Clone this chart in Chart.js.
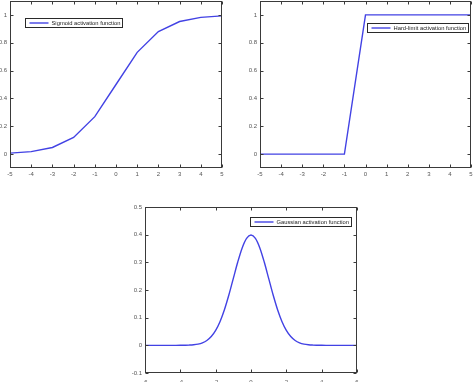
<!DOCTYPE html>
<html>
<head>
<meta charset="utf-8">
<title>Activation functions</title>
<script src="https://cdn.jsdelivr.net/npm/chart.js@4.4.1/dist/chart.umd.min.js"></script>
<style>
    html, body { margin: 0; padding: 0; background: #fff; overflow: hidden; }
    body { width: 474px; height: 382px; position: relative; }
    canvas { position: absolute; }
</style>
</head>
<body>
<canvas id="sigmoidChart" width="232" height="182" style="left:0px;top:0px"></canvas>
<canvas id="hardlimChart" width="234" height="182" style="left:240px;top:0px"></canvas>
<canvas id="gaussChart" width="250" height="187" style="left:120px;top:195px"></canvas>
<script>
// Sigmoid, sampled at integer x
const sigmoidLabel = 'Sigmoid activation function';
const sigmoidX = [-5, -4, -3, -2, -1, 0, 1, 2, 3, 4, 5];
const sigmoidY = [0.0067, 0.0180, 0.0474, 0.1192, 0.2689, 0.5, 0.7311, 0.8808, 0.9526, 0.9820, 0.9933];

// Hard-limit, same x samples
const hardlimLabel = 'Hard-limit activation function';
const hardlimX = [-5, -4, -3, -2, -1, 0, 1, 2, 3, 4, 5];
const hardlimY = [0, 0, 0, 0, 0, 1, 1, 1, 1, 1, 1];

// Gaussian, every 0.25
const gaussLabel = 'Gaussian activation function';
const gaussX = [-6, -5.75, -5.5, -5.25, -5, -4.75, -4.5, -4.25, -4, -3.75, -3.5, -3.25, -3, -2.75, -2.5, -2.25,
    -2, -1.75, -1.5, -1.25, -1, -0.75, -0.5, -0.25, 0, 0.25, 0.5, 0.75, 1, 1.25, 1.5, 1.75,
    2, 2.25, 2.5, 2.75, 3, 3.25, 3.5, 3.75, 4, 4.25, 4.5, 4.75, 5, 5.25, 5.5, 5.75, 6];
const gaussY = [0, 0, 0, 0, 0, 0, 0, 0, 0.0001, 0.0004, 0.0009, 0.0020, 0.0044, 0.0091, 0.0175, 0.0317,
    0.0540, 0.0863, 0.1295, 0.1826, 0.2420, 0.3011, 0.3521, 0.3867, 0.3989, 0.3867, 0.3521, 0.3011, 0.2420, 0.1826, 0.1295, 0.0863,
    0.0540, 0.0317, 0.0175, 0.0091, 0.0044, 0.0020, 0.0009, 0.0004, 0.0001, 0, 0, 0, 0, 0, 0, 0, 0];

// Tick values and labels
const topXTicks = [-5, -4, -3, -2, -1, 0, 1, 2, 3, 4, 5];
const topXLabels = ['-5', '-4', '-3', '-2', '-1', '0', '1', '2', '3', '4', '5'];
const topYTicks = [0, 0.2, 0.4, 0.6, 0.8, 1];
const topYLabels = ['0', '0.2', '0.4', '0.6', '0.8', '1'];
const gaussXTicks = [-6, -4, -2, 0, 2, 4, 6];
const gaussXLabels = ['-6', '-4', '-2', '0', '2', '4', '6'];
const gaussYTicks = [-0.1, 0, 0.1, 0.2, 0.3, 0.4, 0.5];
const gaussYLabels = ['-0.1', '0', '0.1', '0.2', '0.3', '0.4', '0.5'];

const LINE_COLOR = '#4242e4';
const AXIS_COLOR = '#3a3a3a';
const FONT = '"Liberation Sans", Arial, sans-serif';

// MATLAB style box with inward ticks on all four sides
const axesBox = {
    id: 'axesBox',
    afterDatasetsDraw(chart) {
        const ctx = chart.ctx;
        const a = chart.chartArea;
        const x = chart.scales.x;
        const y = chart.scales.y;
        const L = Math.round(a.left) + 0.5, R = Math.round(a.right) - 0.5;
        const T = Math.round(a.top) + 0.5, B = Math.round(a.bottom) - 0.5;
        ctx.save();
        ctx.strokeStyle = AXIS_COLOR;
        ctx.lineWidth = 1;
        ctx.strokeRect(L, T, R - L, B - T);
        ctx.beginPath();
        x.ticks.forEach(t => {
            const px = Math.round(x.getPixelForValue(t.value)) + 0.5;
            ctx.moveTo(px, B); ctx.lineTo(px, B - 3);
            ctx.moveTo(px, T); ctx.lineTo(px, T + 3);
        });
        y.ticks.forEach(t => {
            const py = Math.round(y.getPixelForValue(t.value)) + 0.5;
            ctx.moveTo(L, py); ctx.lineTo(L + 3, py);
            ctx.moveTo(R, py); ctx.lineTo(R - 3, py);
        });
        ctx.stroke();
        ctx.restore();
    }
};

// Boxed legend inside the axes
const boxLegend = {
    id: 'boxLegend',
    afterDraw(chart, args, opts) {
        const ctx = chart.ctx;
        const a = chart.chartArea;
        const ds = chart.data.datasets[0];
        ctx.save();
        ctx.font = '5.8px ' + FONT;
        const textW = ctx.measureText(ds.label).width;
        const w = Math.round(4 + 19 + 3 + textW + 2);
        const h = 9;
        let x = opts.right !== undefined ? a.right - opts.right - w : a.left + opts.left;
        x = Math.round(x) + 0.5;
        const y = Math.round(a.top + opts.top) + 0.5;
        ctx.fillStyle = '#fff';
        ctx.fillRect(x, y, w, h);
        ctx.strokeStyle = '#2a2a2a';
        ctx.lineWidth = 1;
        ctx.strokeRect(x, y, w, h);
        ctx.strokeStyle = ds.borderColor;
        ctx.lineWidth = ds.borderWidth;
        ctx.beginPath();
        ctx.moveTo(x + 4, y + h / 2);
        ctx.lineTo(x + 23, y + h / 2);
        ctx.stroke();
        ctx.fillStyle = '#222';
        ctx.textBaseline = 'middle';
        ctx.fillText(ds.label, x + 26, y + h / 2 + 0.5);
        ctx.restore();
    }
};

function makeChart(canvasId, cfg) {
    const ctx = document.getElementById(canvasId).getContext('2d');
    const points = cfg.xs.map((v, i) => ({ x: v, y: cfg.ys[i] }));

    return new Chart(ctx, {
        type: 'line',
        data: {
            datasets: [{
                label: cfg.label,
                data: points,
                borderColor: LINE_COLOR,
                borderWidth: 1.4,
                pointRadius: 0,
                tension: 0,
                cubicInterpolationMode: cfg.smooth ? 'monotone' : 'default',
                fill: false
            }]
        },
        options: {
            responsive: false,
            animation: false,
            events: [],
            layout: { padding: cfg.padding },
            plugins: {
                legend: { display: false },
                tooltip: { enabled: false },
                boxLegend: cfg.legend
            },
            scales: {
                x: {
                    type: 'linear',
                    min: cfg.xMin,
                    max: cfg.xMax,
                    grid: { display: false, drawTicks: false },
                    border: { display: false },
                    afterBuildTicks: s => { s.ticks = cfg.xTicks.map(v => ({ value: v })); },
                    afterFit: s => { s.height = cfg.xHeight; s.paddingLeft = 0; s.paddingRight = 0; },
                    ticks: {
                        autoSkip: false,
                        maxRotation: 0,
                        padding: cfg.xPad,
                        color: '#555',
                        font: { family: FONT, size: 6 },
                        callback: (v, i) => cfg.xLabels[i]
                    }
                },
                y: {
                    type: 'linear',
                    min: cfg.yMin,
                    max: cfg.yMax,
                    grid: { display: false, drawTicks: false },
                    border: { display: false },
                    afterBuildTicks: s => { s.ticks = cfg.yTicks.map(v => ({ value: v })); },
                    afterFit: s => { s.width = cfg.yWidth; s.paddingTop = 0; s.paddingBottom = 0; },
                    ticks: {
                        autoSkip: false,
                        padding: 3,
                        color: '#555',
                        font: { family: FONT, size: 6 },
                        callback: (v, i) => cfg.yLabels[i]
                    }
                }
            }
        },
        plugins: [axesBox, boxLegend]
    });
}

makeChart('sigmoidChart', {
    label: sigmoidLabel, xs: sigmoidX, ys: sigmoidY,
    xMin: -5, xMax: 5, yMin: -0.1, yMax: 1.1,
    xTicks: topXTicks, xLabels: topXLabels, yTicks: topYTicks, yLabels: topYLabels,
    yWidth: 10, xHeight: 14, xPad: 3,
    padding: { left: 0, top: 1, right: 10, bottom: 0 },
    legend: { left: 15, top: 17 }
});

makeChart('hardlimChart', {
    label: hardlimLabel, xs: hardlimX, ys: hardlimY,
    xMin: -5, xMax: 5, yMin: -0.1, yMax: 1.1,
    xTicks: topXTicks, xLabels: topXLabels, yTicks: topYTicks, yLabels: topYLabels,
    yWidth: 20, xHeight: 14, xPad: 3,
    padding: { left: 0, top: 1, right: 3, bottom: 0 },
    legend: { right: 3, top: 22 }
});

makeChart('gaussChart', {
    label: gaussLabel, xs: gaussX, ys: gaussY, smooth: true,
    xMin: -6, xMax: 6, yMin: -0.1, yMax: 0.5,
    xTicks: gaussXTicks, xLabels: gaussXLabels, yTicks: gaussYTicks, yLabels: gaussYLabels,
    yWidth: 25, xHeight: 9, xPad: 6,
    padding: { left: 0, top: 12, right: 13, bottom: 0 },
    legend: { right: 6, top: 10 }
});
</script>
</body>
</html>
